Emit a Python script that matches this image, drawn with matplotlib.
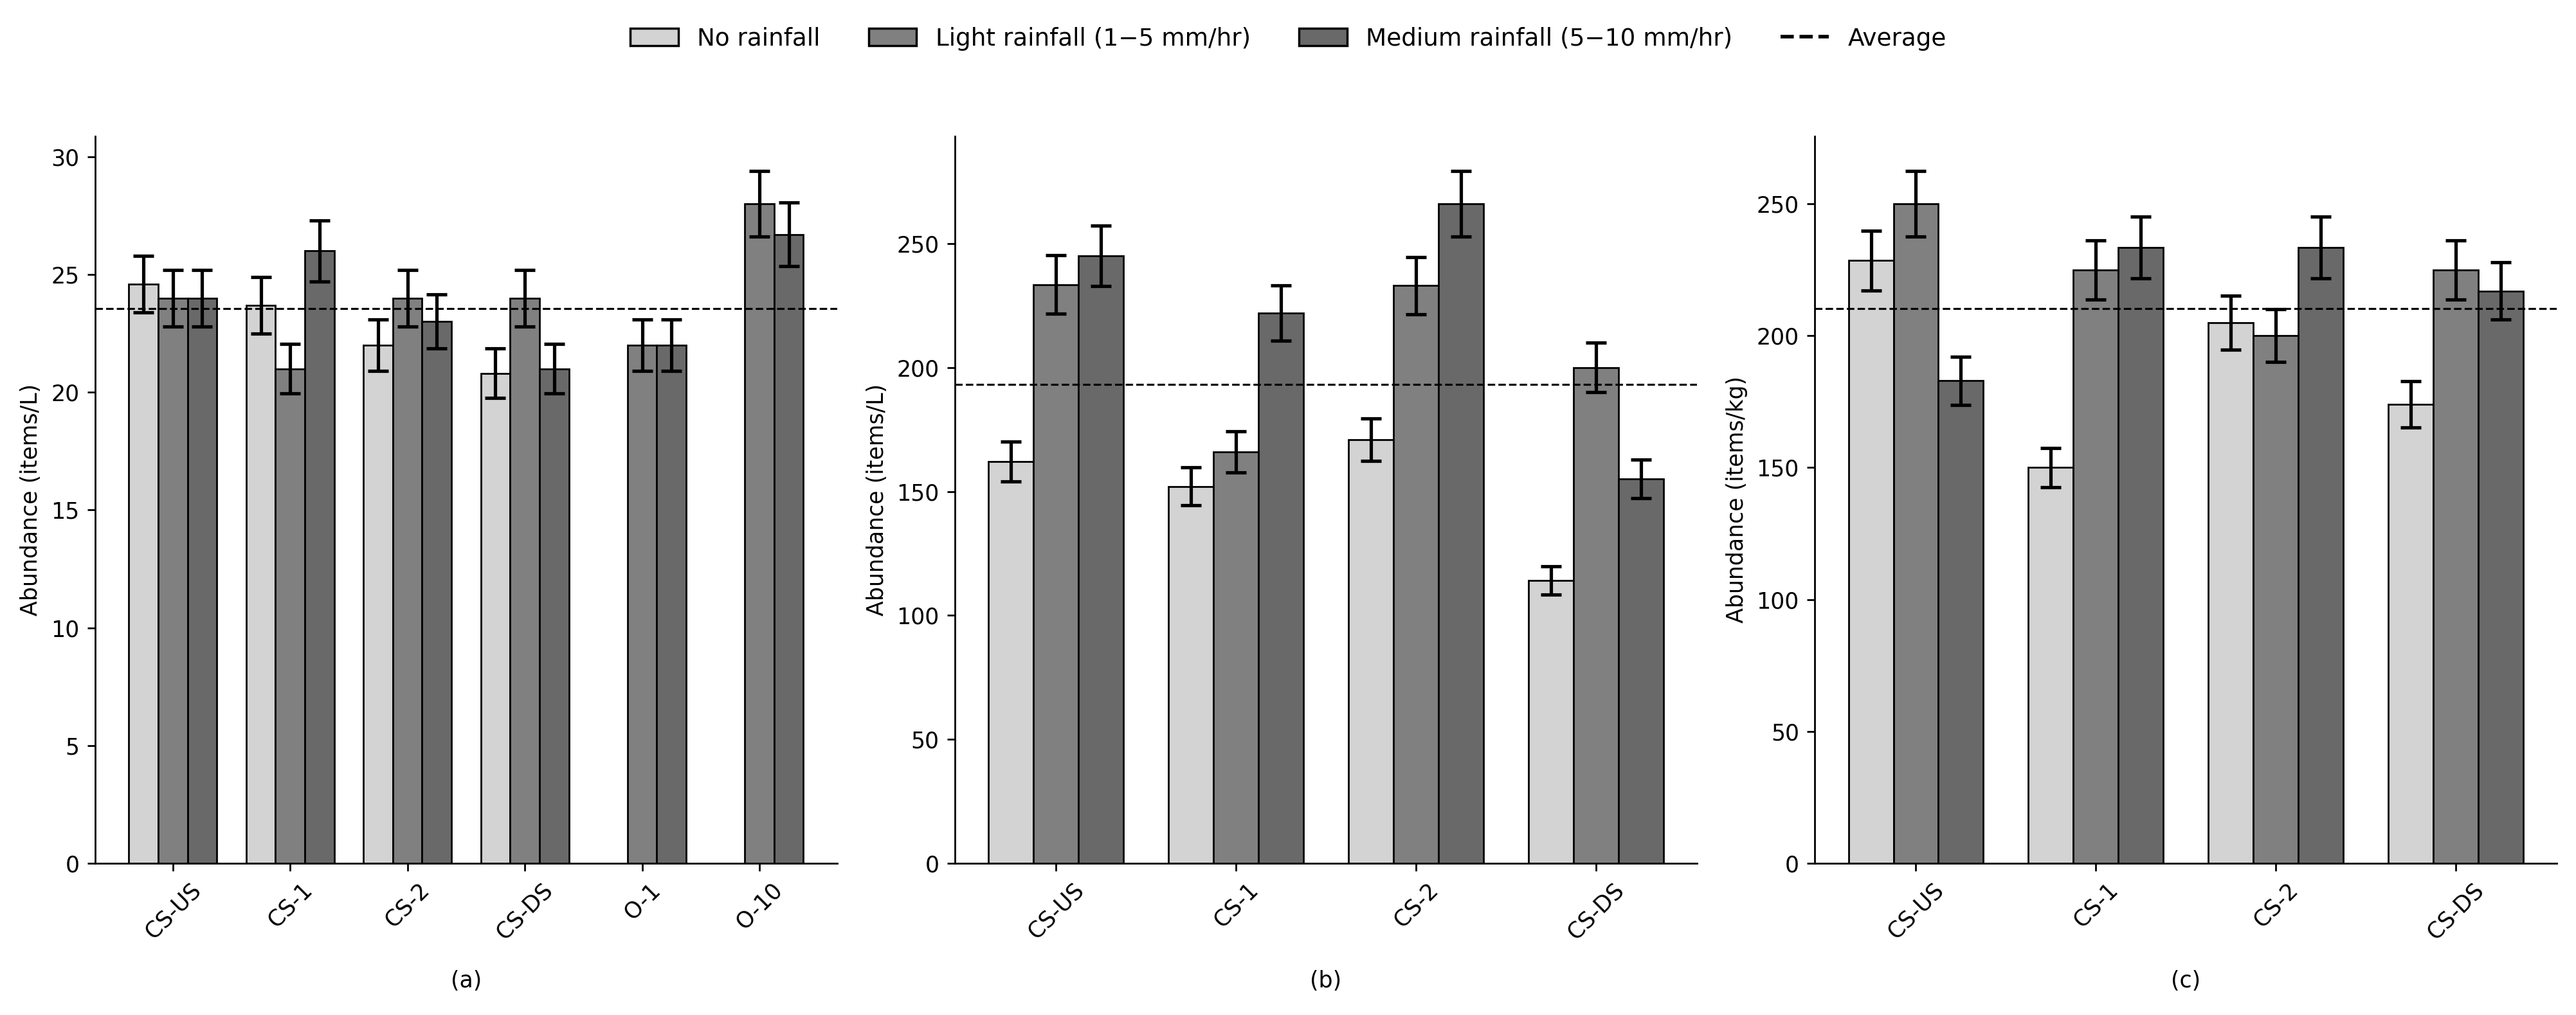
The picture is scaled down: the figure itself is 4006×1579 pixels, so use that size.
import numpy as np
import matplotlib
matplotlib.use("Agg")
import matplotlib.pyplot as plt
from matplotlib.patches import Patch
from matplotlib.lines import Line2D

# ---------------- data ----------------
sites_a = ["CS-US", "CS-1", "CS-2", "CS-DS", "O-1", "O-10"]
no_a = [24.6, 23.7, 22.0, 20.8, np.nan, np.nan]
light_a = [24.0, 21.0, 24.0, 24.0, 22.0, 28.0]
medium_a = [24.0, 26.0, 23.0, 21.0, 22.0, 26.7]
no_a_err = [1.2, 1.2, 1.1, 1.05, np.nan, np.nan]
light_a_err = [1.2, 1.05, 1.2, 1.2, 1.1, 1.4]
medium_a_err = [1.2, 1.3, 1.15, 1.05, 1.1, 1.35]

sites_b = ["CS-US", "CS-1", "CS-2", "CS-DS"]
no_b = [162, 152, 171, 114]
light_b = [233.5, 166, 233, 200]
medium_b = [245, 222, 266, 155]
no_b_err = [8.1, 7.6, 8.55, 5.7]
light_b_err = [11.7, 8.3, 11.65, 10.0]
medium_b_err = [12.25, 11.1, 13.3, 7.75]

sites_c = ["CS-US", "CS-1", "CS-2", "CS-DS"]
no_c = [228.5, 150, 205, 174]
light_c = [250, 225, 200, 225]
medium_c = [183, 233.5, 233.5, 217]
no_c_err = [11.4, 7.5, 10.25, 8.7]
light_c_err = [12.5, 11.25, 10.0, 11.25]
medium_c_err = [9.15, 11.7, 11.7, 10.85]

series_labels = ["No rainfall", "Light rainfall (1\u22125 mm/hr)", "Medium rainfall (5\u221210 mm/hr)"]
colors = ["#d3d3d3", "#808080", "#696969"]
ylabels = ["Abundance (items/L)", "Abundance (items/L)", "Abundance (items/kg)"]
panel_labels = ["(a)", "(b)", "(c)"]

panels = [
    (sites_a, [no_a, light_a, medium_a], [no_a_err, light_a_err, medium_a_err]),
    (sites_b, [no_b, light_b, medium_b], [no_b_err, light_b_err, medium_b_err]),
    (sites_c, [no_c, light_c, medium_c], [no_c_err, light_c_err, medium_c_err]),
]

plt.rcParams['font.family'] = ['DejaVu Sans']
plt.rcParams['font.size'] = 10

fig = plt.figure(figsize=(4007 / 250, 1579 / 250), dpi=250)
lefts = [0.0369, 0.3706, 0.7043]
width = 0.2880
bottom, top = 0.1495, 0.8657

w = 0.25
for i, (sites, vals, errs) in enumerate(panels):
    ax = fig.add_axes([lefts[i], bottom, width, top - bottom])
    x = np.arange(len(sites))
    for j in range(3):
        ax.bar(x + (j - 1) * w, vals[j], w, yerr=errs[j], color=colors[j],
               edgecolor="black", linewidth=0.8, capsize=4.5,
               error_kw=dict(ecolor="black", elinewidth=1.5, capthick=1.5))
    avg = np.nanmean(np.concatenate([np.asarray(v, dtype=float) for v in vals]))
    ax.axhline(avg, color="black", linestyle="--", linewidth=0.9)
    ax.set_xticks(x)
    ax.set_xticklabels(sites, rotation=45)
    ax.set_ylabel(ylabels[i])
    ax.set_xlabel(panel_labels[i], labelpad=12)
    ax.spines["top"].set_visible(False)
    ax.spines["right"].set_visible(False)

handles = [Patch(facecolor=colors[j], edgecolor="black", linewidth=1.0, label=series_labels[j]) for j in range(3)]
handles.append(Line2D([0], [0], color="black", linestyle="--", linewidth=1.6, label="Average"))
fig.legend(handles=handles, loc="center", bbox_to_anchor=(0.5, 0.962), ncol=4, frameon=False,
           fontsize=10.75)

fig.savefig("out.png", dpi=250)
